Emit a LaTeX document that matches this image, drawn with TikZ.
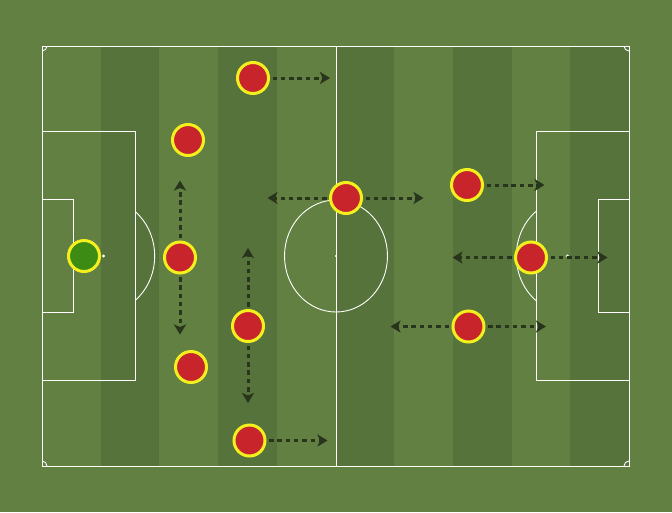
\documentclass[tikz,border=0pt]{standalone}
\usetikzlibrary{positioning,arrows.meta,shadows}

\definecolor{grassA}{RGB}{98,128,66}
\definecolor{grassB}{RGB}{87,115,60}
\definecolor{shirt}{RGB}{200,36,43}
\definecolor{keeper}{RGB}{59,139,20}
\definecolor{rim}{RGB}{244,240,30}
\definecolor{runcol}{RGB}{40,52,28}

\tikzset{
 player/.style={circle, draw=rim, line width=3pt, fill=shirt, inner sep=0pt, minimum size=31pt,
  drop shadow={shadow xshift=0.4pt, shadow yshift=-1.2pt, opacity=0.3}},
 keep/.style={player, fill=keeper},
 line/.style={draw=white, line width=0.9pt},
 run/.style={draw=runcol, line width=3pt, dash pattern=on 4.5pt off 3.8pt, shorten <=2.5pt,
  -{Stealth[length=10pt, width=12pt, inset=2.5pt]}},
}

\begin{document}
\begin{tikzpicture}[x=1pt, y=-1pt]
 \useasboundingbox (0,0) rectangle (672,512);
 \fill[grassA] (0,0) rectangle (672,512);
 % stripes
 \foreach \i in {1,3,5,7,9}
  \fill[grassB] (42+\i*58.7,46) rectangle ++(58.7,420);
 % markings
 \draw[line] (42,46) rectangle (629,466);
 \draw[line] (336,46) -- (336,466);
 \draw[line] (336,256) ellipse [x radius=51.5, y radius=56];
 \draw[line] (42,131.5) rectangle (135,380.5);
 \draw[line] (42,199.5) rectangle (73,312.5);
 \draw[line] (629,131.5) rectangle (536,380.5);
 \draw[line] (629,199.5) rectangle (598,312.5);
 \begin{scope}
  \clip (135,0) rectangle (336,512);
  \draw[line] (103.5,256) ellipse [x radius=51.2, y radius=56.5];
 \end{scope}
 \begin{scope}
  \clip (336,0) rectangle (536,512);
  \draw[line] (567.5,256) ellipse [x radius=51.2, y radius=56.5];
 \end{scope}
 \begin{scope}
  \clip (42,46) rectangle (629,466);
  \foreach \cx/\cy in {42/46, 629/46, 42/466, 629/466}
   \draw[line] (\cx,\cy) circle [radius=5];
 \end{scope}
 \fill[white] (103.5,256) circle [radius=1.6];
 \fill[white] (567.5,256) circle [radius=1.6];
 \fill[white] (336,256) circle [radius=1.2];

 % players
 \node[keep] (gk) at (84,256) {};
 \node[player] (lw) at (253,78) {};
 \node[player] (lcb) at (188,140) {};
 \node[player] (cb) at (180,257.5) {};
 \node[player] (rcb) at (191,367) {};
 \node[player] (dm) at (248,326) {};
 \node[player] (rw) at (249.5,440.5) {};
 \node[player] (cm) at (346,198) {};
 \node[player] (am) at (467,185) {};
 \node[player] (st) at (531,257.5) {};
 \node[player] (ss) at (468.5,326.5) {};

 % runs
 \coordinate [right=60pt of lw] (lw-r);
 \coordinate [above=60pt of cb] (cb-u);
 \coordinate [below=60pt of cb] (cb-d);
 \coordinate [above=61pt of dm] (dm-u);
 \coordinate [below=60pt of dm] (dm-d);
 \coordinate [right=61pt of rw] (rw-r);
 \coordinate [left=61.5pt of cm] (cm-l);
 \coordinate [right=60.5pt of cm] (cm-r);
 \coordinate [right=60.5pt of am] (am-r);
 \coordinate [left=61.5pt of st] (st-l);
 \coordinate [right=59.5pt of st] (st-r);
 \coordinate [left=61pt of ss] (ss-l);
 \coordinate [right=60.5pt of ss] (ss-r);
 \draw[run] (lw) -- (lw-r);
 \draw[run] (cb) -- (cb-u);
 \draw[run] (cb) -- (cb-d);
 \draw[run] (dm) -- (dm-u);
 \draw[run] (dm) -- (dm-d);
 \draw[run] (rw) -- (rw-r);
 \draw[run] (cm) -- (cm-l);
 \draw[run] (cm) -- (cm-r);
 \draw[run] (am) -- (am-r);
 \draw[run] (st) -- (st-l);
 \draw[run] (st) -- (st-r);
 \draw[run] (ss) -- (ss-l);
 \draw[run] (ss) -- (ss-r);
\end{tikzpicture}
\end{document}
